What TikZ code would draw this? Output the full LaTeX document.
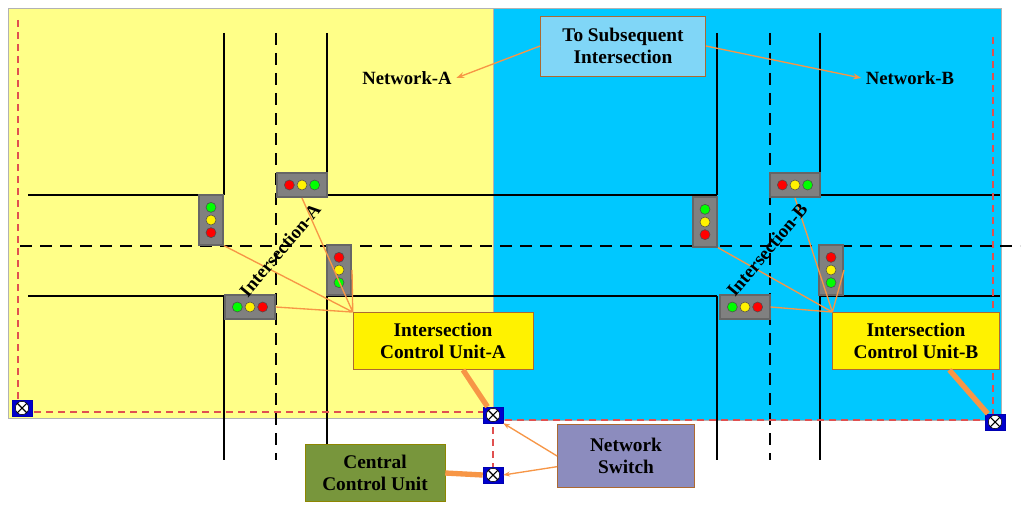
\documentclass[tikz,border=0pt]{standalone}
\usepackage{fontspec}
\setmainfont{Liberation Serif}
\usetikzlibrary{arrows.meta,calc}
\definecolor{yel}{HTML}{FFFF88}
\definecolor{cya}{HTML}{00C8FF}
\definecolor{org}{HTML}{F79646}
\definecolor{rdash}{HTML}{E05050}
\begin{document}
\begin{tikzpicture}[x=0.75pt,y=-0.75pt,
 road/.style={line width=1.6pt,black},
 droad/.style={line width=1.1pt,black,dash pattern=on 9pt off 6pt},
 net/.style={line width=1.2pt,rdash,dash pattern=on 5pt off 4pt},
 ol/.style={org,line width=1pt},
 thick ol/.style={org,line width=4pt},
 lbl/.style={font=\bfseries\fontsize{14}{16}\selectfont},
 box/.style={draw=org!70!black,font=\bfseries\fontsize{14.5}{17}\selectfont,align=center,inner sep=2pt},
 sw/.style={draw=blue!70!black,fill=blue!80!black,minimum width=15pt,minimum height=12pt,inner sep=0pt},
 lamp/.style={circle,draw=black!70,minimum size=7.5pt,inner sep=0pt}]
\useasboundingbox (0,0) rectangle (1024,517);
\fill[white] (0,0) rectangle (1024,517);
\fill[yel,draw=black!30] (8,8) rectangle (493,418);
\fill[cya,draw=black!30] (493,8) rectangle (1001,420);
% roads
\foreach \a/\b/\c in {224/276/327,717/770/820}{
 \draw[road] (\a,33)--(\a,195) (\a,296)--(\a,460);
 \draw[road] (\c,33)--(\c,195) (\c,296)--(\c,460);
 \draw[droad] (\b,33)--(\b,460);}
\draw[road] (28,195)--(224,195) (327,195)--(717,195) (820,195)--(1000,195);
\draw[road] (28,296)--(224,296) (327,296)--(717,296) (820,296)--(1000,296);
\draw[droad] (20,246)--(1020,246);
% network dashed
\draw[net] (18,20)--(18,412)--(493,412);
\draw[net] (493,420)--(993,420)--(993,35);
\draw[net] (493,415)--(493,475);
% boxes
\node[box,fill=yellow,minimum width=135pt,minimum height=43pt] (icua) at (443,341) {Intersection\\Control Unit-A};
\node[box,fill=yellow,minimum width=125pt,minimum height=43pt] (icub) at (916,341) {Intersection\\Control Unit-B};
\node[box,fill=cyan!50,minimum width=124pt,minimum height=45pt] (sub) at (623,46) {To Subsequent\\Intersection};
\node[box,fill={rgb,255:red,140;green,140;blue,190},minimum width=103pt,minimum height=47pt] (ns) at (626,456) {Network\\Switch};
\node[box,draw=olive,fill={rgb,255:red,120;green,150;blue,60},minimum width=105pt,minimum height=43pt] (ccu) at (375,473) {Central\\Control Unit};
\node[lbl] (na) at (407,78) {Network-A};
\node[lbl] (nb) at (910,78) {Network-B};
% traffic lights
\newcommand\hl[5]{\node[draw=black!60,fill=gray,line width=1.5pt,minimum width=37pt,minimum height=18pt,inner sep=0pt] (#1) at (#2) {};
 \node[lamp,fill=#3] at ($(#1)+(-9.5pt,0)$) {};\node[lamp,fill=#4] at (#1) {};\node[lamp,fill=#5] at ($(#1)+(9.5pt,0)$) {};}
\newcommand\vl[5]{\node[draw=black!60,fill=gray,line width=1.5pt,minimum width=18pt,minimum height=37pt,inner sep=0pt] (#1) at (#2) {};
 \node[lamp,fill=#3] at ($(#1)+(0,9.5pt)$) {};\node[lamp,fill=#4] at (#1) {};\node[lamp,fill=#5] at ($(#1)+(0,-9.5pt)$) {};}
% connectors to lights
\hl{a1}{302,185}{red}{yellow}{green}
\vl{a2}{211,220}{green}{yellow}{red}
\vl{a3}{339,270}{red}{yellow}{green}
\hl{a4}{250,307}{green}{yellow}{red}
\hl{b1}{795,185}{red}{yellow}{green}
\vl{b2}{705,222}{green}{yellow}{red}
\vl{b3}{831,270}{red}{yellow}{green}
\hl{b4}{745,307}{green}{yellow}{red}
\begin{scope}[on background layer/.try]
\end{scope}
\draw[ol] (a1.south)--(icua.north west) (a2.south east)--(icua.north west) (a3.east)--(icua.north west) (a4.east)--(icua.north west);
\draw[ol] (b1.south)--(icub.north west) (b2.south east)--(icub.north west) (b3.east)--(icub.north west) (b4.east)--(icub.north west);
\node[lbl,rotate=50] (ia) at (280,250) {Intersection-A};
\node[lbl,rotate=50] (ib) at (767,250) {Intersection-B};
% switches
\foreach \n/\x/\y in {s1/22/408,s2/493/415,s3/493/475,s4/995/422}{
 \node[sw] (\n) at (\x,\y) {};
 \draw[black,fill=white] (\n) circle (5pt);
 \draw[black,line width=0.8pt] ($(\n)+(-3.5pt,-3.5pt)$)--($(\n)+(3.5pt,3.5pt)$) ($(\n)+(-3.5pt,3.5pt)$)--($(\n)+(3.5pt,-3.5pt)$);}
\draw[ol,-{Stealth[length=6pt]}] (sub.west)--(na.east);
\draw[ol,-{Stealth[length=6pt]}] (sub.east)--(nb.west);
\draw[ol,-{Stealth[length=5pt]}] (ns.west)--(s2.south east);
\draw[ol,-{Stealth[length=5pt]}] ([yshift=-8pt]ns.west)--(s3.east);
\draw[thick ol] ([xshift=15pt]icua.south)--(s2);
\draw[thick ol] ([xshift=25pt]icub.south)--(s4);
\draw[thick ol] (ccu.east)--(s3.west);
\end{tikzpicture}
\end{document}
